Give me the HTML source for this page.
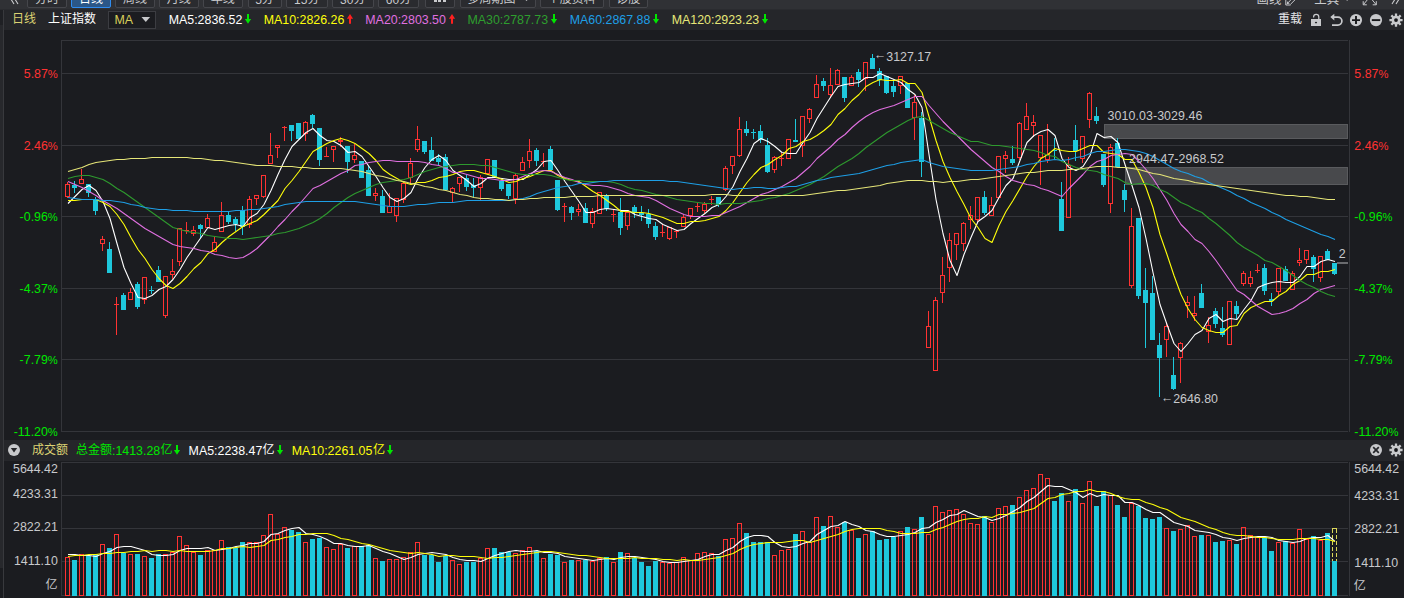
<!DOCTYPE html>
<html lang="zh"><head><meta charset="utf-8"><title>K线图 上证指数</title>
<style>
html,body{margin:0;padding:0;background:#1b1c20}
body{width:1404px;height:598px;overflow:hidden;position:relative;font-family:"Liberation Sans",sans-serif}
span{font-family:"Liberation Sans",sans-serif}
span.cj{position:absolute;line-height:1;white-space:nowrap;font-family:"Liberation Sans","Noto Sans CJK SC",sans-serif}
</style></head>
<body>
<div style="position:absolute;left:0;top:0;width:1404px;height:10px;background:#303135"></div>
<div style="position:absolute;left:0;top:9px;width:1404px;height:1px;background:#2a2b2f"></div>
<div style="position:absolute;left:0;top:10px;width:1404px;height:20px;background:#25262a"></div>
<div style="position:absolute;left:4px;top:440px;width:1400px;height:21px;background:#25262a"></div>
<div style="position:absolute;left:0;top:10px;width:3px;height:15px;background:#1f2024"></div><div style="position:absolute;left:0;top:25px;width:3px;height:543px;background:#27282c"></div>
<div style="position:absolute;left:3px;top:10px;width:1px;height:588px;background:#38393d"></div>
<div style="position:absolute;box-sizing:border-box;left:27px;top:-14px;width:40px;height:22px;border-radius:2px;background:#2a2b2f;border:1px solid #45464b;"></div>
<div style="position:absolute;box-sizing:border-box;left:71px;top:-14px;width:40px;height:22px;border-radius:2px;background:#2b5788;border:1px solid #2f8cf0;"></div>
<div style="position:absolute;box-sizing:border-box;left:115px;top:-14px;width:40px;height:22px;border-radius:2px;background:#2a2b2f;border:1px solid #45464b;"></div>
<div style="position:absolute;box-sizing:border-box;left:159px;top:-14px;width:39.5px;height:22px;border-radius:2px;background:#2a2b2f;border:1px solid #45464b;"></div>
<div style="position:absolute;box-sizing:border-box;left:203px;top:-14px;width:39.5px;height:22px;border-radius:2px;background:#2a2b2f;border:1px solid #45464b;"></div>
<div style="position:absolute;box-sizing:border-box;left:247.5px;top:-14px;width:34px;height:22px;border-radius:2px;background:#2a2b2f;border:1px solid #45464b;"></div>
<div style="position:absolute;box-sizing:border-box;left:286px;top:-14px;width:41.5px;height:22px;border-radius:2px;background:#2a2b2f;border:1px solid #45464b;"></div>
<div style="position:absolute;box-sizing:border-box;left:332px;top:-14px;width:41.5px;height:22px;border-radius:2px;background:#2a2b2f;border:1px solid #45464b;"></div>
<div style="position:absolute;box-sizing:border-box;left:378px;top:-14px;width:41px;height:22px;border-radius:2px;background:#2a2b2f;border:1px solid #45464b;"></div>
<div style="position:absolute;box-sizing:border-box;left:424.5px;top:-14px;width:30px;height:22px;border-radius:2px;background:#2a2b2f;border:1px solid #45464b;"></div>
<div style="position:absolute;box-sizing:border-box;left:459.5px;top:-14px;width:76px;height:22px;border-radius:2px;background:#2a2b2f;border:1px solid #45464b;"></div>
<div style="position:absolute;box-sizing:border-box;left:540px;top:-14px;width:63.5px;height:22px;border-radius:2px;background:#2a2b2f;border:1px solid #45464b;"></div>
<div style="position:absolute;box-sizing:border-box;left:608.5px;top:-14px;width:39.5px;height:22px;border-radius:2px;background:#2a2b2f;border:1px solid #45464b;"></div>
<div style="position:absolute;box-sizing:border-box;left:108px;top:11px;width:48px;height:18px;background:#1b1c20;border:1px solid #3c3d42"></div>
<svg width="1404" height="598" viewBox="0 0 1404 598" style="position:absolute;left:0;top:0">
<g shape-rendering="crispEdges">
<rect x="61" y="40" width="1287" height="1" fill="#34353a"/>
<rect x="61" y="73" width="1287" height="1" fill="#34353a"/>
<rect x="61" y="145" width="1287" height="1" fill="#34353a"/>
<rect x="61" y="216" width="1287" height="1" fill="#34353a"/>
<rect x="61" y="288" width="1287" height="1" fill="#34353a"/>
<rect x="61" y="359" width="1287" height="1" fill="#34353a"/>
<rect x="61" y="431" width="1287" height="1" fill="#34353a"/>
<rect x="61" y="40" width="1" height="392" fill="#34353a"/>
<rect x="1349" y="40" width="1" height="392" fill="#34353a"/>
<rect x="61" y="462" width="1287" height="1" fill="#34353a"/>
<rect x="61" y="495" width="1287" height="1" fill="#34353a"/>
<rect x="61" y="528" width="1287" height="1" fill="#34353a"/>
<rect x="61" y="561" width="1287" height="1" fill="#34353a"/>
<rect x="61" y="595" width="1287" height="1" fill="#34353a"/>
<rect x="61" y="462" width="1" height="134" fill="#34353a"/>
<rect x="1349" y="462" width="1" height="134" fill="#34353a"/>
<rect x="1104.5" y="124.5" width="243" height="14" fill="#48494c" stroke="#5a5b5e" stroke-width="1"/>
<rect x="1125.5" y="167.5" width="222" height="17" fill="#48494c" stroke="#5a5b5e" stroke-width="1"/>
<path d="M65 184h5v13h-5z M66 185v11h3v-11z M67 182h1v2h-1z M67 197h1v1h-1z M79 179h5v5h-5z M80 180v3h3v-3z M81 169h1v10h-1z M100 239h5v5h-5z M101 240v3h3v-3z M102 236h1v3h-1z M102 244h1v7h-1z M114 304h5v1h-5z M116 297h1v7h-1z M116 305h1v30h-1z M128 292h5v8h-5z M129 293v6h3v-6z M130 288h1v4h-1z M142 277h5v23h-5z M143 278v21h3v-21z M144 300h1v4h-1z M163 276h5v40h-5z M164 277v38h3v-38z M165 316h1v2h-1z M170 271h5v4h-5z M171 272v2h3v-2z M172 259h1v12h-1z M172 275h1v4h-1z M177 228h5v34h-5z M178 229v32h3v-32z M179 262h1v4h-1z M184 230h5v1h-5z M186 222h1v8h-1z M186 231h1v3h-1z M191 230h5v4h-5z M192 231v2h3v-2z M193 226h1v4h-1z M193 234h1v2h-1z M205 218h5v10h-5z M206 219v8h3v-8z M207 214h1v4h-1z M212 242h5v10h-5z M213 243v8h3v-8z M214 237h1v5h-1z M219 215h5v17h-5z M220 216v15h3v-15z M221 202h1v13h-1z M247 199h5v26h-5z M248 200v24h3v-24z M249 196h1v3h-1z M249 225h1v3h-1z M254 195h5v4h-5z M255 196v2h3v-2z M256 199h1v6h-1z M261 175h5v22h-5z M262 176v20h3v-20z M263 197h1v1h-1z M268 155h5v9h-5z M269 156v7h3v-7z M270 133h1v22h-1z M275 145h5v3h-5z M276 146v1h3v-1z M277 148h1v10h-1z M282 127h5v1h-5z M284 126h1v1h-1z M284 128h1v13h-1z M303 122h5v12h-5z M304 123v10h3v-10z M305 121h1v1h-1z M305 134h1v7h-1z M324 156h5v1h-5z M326 147h1v9h-1z M331 146h5v4h-5z M332 147v2h3v-2z M333 150h1v12h-1z M338 140h5v2h-5z M340 137h1v3h-1z M340 142h1v5h-1z M352 155h5v5h-5z M353 156v3h3v-3z M354 144h1v11h-1z M354 160h1v3h-1z M373 193h5v3h-5z M374 194v1h3v-1z M375 188h1v5h-1z M375 196h1v5h-1z M387 206h5v7h-5z M388 207v5h3v-5z M389 193h1v13h-1z M394 198h5v18h-5z M395 199v16h3v-16z M396 216h1v6h-1z M401 183h5v17h-5z M402 184v15h3v-15z M403 200h1v3h-1z M408 163h5v15h-5z M409 164v13h3v-13z M410 158h1v5h-1z M410 178h1v6h-1z M415 139h5v11h-5z M416 140v9h3v-9z M417 126h1v13h-1z M417 150h1v2h-1z M450 188h5v5h-5z M451 189v3h3v-3z M452 187h1v1h-1z M452 193h1v9h-1z M457 177h5v7h-5z M458 178v5h3v-5z M459 184h1v8h-1z M478 177h5v11h-5z M479 178v9h3v-9z M480 175h1v2h-1z M480 188h1v12h-1z M485 159h5v15h-5z M486 160v13h3v-13z M513 175h5v24h-5z M514 176v22h3v-22z M515 173h1v2h-1z M515 199h1v5h-1z M520 162h5v9h-5z M521 163v7h3v-7z M522 157h1v5h-1z M527 151h5v10h-5z M528 152v8h3v-8z M529 139h1v12h-1z M529 161h1v7h-1z M541 161h5v1h-5z M543 153h1v8h-1z M543 162h1v5h-1z M562 206h5v1h-5z M564 203h1v3h-1z M564 207h1v15h-1z M576 209h5v3h-5z M577 210v1h3v-1z M578 204h1v5h-1z M578 212h1v4h-1z M590 211h5v13h-5z M591 212v11h3v-11z M592 208h1v3h-1z M592 224h1v4h-1z M597 192h5v22h-5z M598 193v20h3v-20z M611 214h5v1h-5z M613 209h1v5h-1z M613 215h1v7h-1z M625 212h5v14h-5z M626 213v12h3v-12z M627 226h1v4h-1z M660 232h5v1h-5z M662 224h1v8h-1z M662 233h1v4h-1z M667 227h5v12h-5z M668 228v10h3v-10z M669 239h1v1h-1z M674 231h5v1h-5z M676 230h1v1h-1z M676 232h1v6h-1z M681 217h5v10h-5z M682 218v8h3v-8z M683 215h1v2h-1z M688 208h5v8h-5z M689 209v6h3v-6z M690 216h1v3h-1z M695 206h5v1h-5z M697 203h1v3h-1z M697 207h1v5h-1z M702 204h5v7h-5z M703 205v5h3v-5z M704 202h1v2h-1z M704 211h1v3h-1z M709 199h5v1h-5z M711 196h1v3h-1z M711 200h1v5h-1z M723 168h5v22h-5z M724 169v20h3v-20z M725 166h1v2h-1z M725 190h1v1h-1z M730 156h5v10h-5z M731 157v8h3v-8z M732 166h1v8h-1z M737 129h5v27h-5z M738 130v25h3v-25z M739 117h1v12h-1z M739 156h1v1h-1z M772 157h5v13h-5z M773 158v11h3v-11z M774 156h1v1h-1z M774 170h1v3h-1z M779 158h5v1h-5z M781 153h1v5h-1z M781 159h1v7h-1z M786 139h5v20h-5z M787 140v18h3v-18z M800 116h5v30h-5z M801 117v28h3v-28z M802 146h1v11h-1z M807 109h5v10h-5z M808 110v8h3v-8z M809 108h1v1h-1z M809 119h1v4h-1z M814 84h5v14h-5z M815 85v12h3v-12z M816 75h1v9h-1z M828 85h5v10h-5z M829 86v8h3v-8z M830 68h1v17h-1z M830 95h1v3h-1z M835 70h5v15h-5z M836 71v13h3v-13z M837 69h1v1h-1z M849 77h5v9h-5z M850 78v7h3v-7z M851 75h1v2h-1z M863 62h5v17h-5z M864 63v15h3v-15z M865 79h1v12h-1z M898 76h5v10h-5z M899 77v8h3v-8z M900 86h1v8h-1z M912 102h5v16h-5z M913 103v14h3v-14z M914 95h1v7h-1z M914 118h1v22h-1z M926 326h5v22h-5z M927 327v20h3v-20z M928 311h1v15h-1z M933 300h5v71h-5z M934 301v69h3v-69z M935 297h1v3h-1z M940 275h5v18h-5z M941 276v16h3v-16z M942 257h1v18h-1z M942 293h1v10h-1z M947 240h5v28h-5z M948 241v26h3v-26z M949 233h1v7h-1z M949 268h1v14h-1z M954 233h5v12h-5z M955 234v10h3v-10z M956 245h1v15h-1z M961 223h5v21h-5z M962 224v19h3v-19z M963 222h1v1h-1z M963 244h1v7h-1z M968 215h5v5h-5z M969 216v3h3v-3z M970 206h1v9h-1z M970 220h1v9h-1z M975 197h5v23h-5z M976 198v21h3v-21z M977 220h1v2h-1z M989 205h5v11h-5z M990 206v9h3v-9z M991 197h1v8h-1z M996 156h5v42h-5z M997 157v40h3v-40z M1003 155h5v4h-5z M1004 156v2h3v-2z M1005 151h1v4h-1z M1005 159h1v14h-1z M1017 123h5v35h-5z M1018 124v33h3v-33z M1019 122h1v1h-1z M1019 158h1v2h-1z M1024 116h5v14h-5z M1025 117v12h3v-12z M1026 103h1v13h-1z M1031 122h5v4h-5z M1032 123v2h3v-2z M1033 115h1v7h-1z M1033 126h1v11h-1z M1038 135h5v23h-5z M1039 136v21h3v-21z M1040 158h1v27h-1z M1045 154h5v6h-5z M1046 155v4h3v-4z M1047 124h1v30h-1z M1047 160h1v3h-1z M1066 165h5v53h-5z M1067 166v51h3v-51z M1068 157h1v8h-1z M1080 136h5v23h-5z M1081 137v21h3v-21z M1082 159h1v4h-1z M1087 93h5v27h-5z M1088 94v25h3v-25z M1089 92h1v1h-1z M1089 120h1v8h-1z M1108 147h5v57h-5z M1109 148v55h3v-55z M1110 144h1v3h-1z M1110 204h1v9h-1z M1129 226h5v60h-5z M1130 227v58h3v-58z M1131 208h1v18h-1z M1131 286h1v2h-1z M1164 326h5v14h-5z M1165 327v12h3v-12z M1166 323h1v3h-1z M1166 340h1v17h-1z M1178 343h5v15h-5z M1179 344v13h3v-13z M1180 342h1v1h-1z M1180 358h1v25h-1z M1185 302h5v4h-5z M1186 303v2h3v-2z M1187 296h1v6h-1z M1187 306h1v12h-1z M1192 313h5v3h-5z M1193 314v1h3v-1z M1194 296h1v17h-1z M1194 316h1v5h-1z M1206 325h5v7h-5z M1207 326v5h3v-5z M1208 317h1v8h-1z M1208 332h1v11h-1z M1227 301h5v44h-5z M1228 302v42h3v-42z M1241 273h5v11h-5z M1242 274v9h3v-9z M1243 271h1v2h-1z M1243 284h1v2h-1z M1248 277h5v7h-5z M1249 278v5h3v-5z M1250 271h1v6h-1z M1250 284h1v3h-1z M1255 270h5v1h-5z M1257 264h1v6h-1z M1257 271h1v2h-1z M1276 268h5v24h-5z M1277 269v22h3v-22z M1278 292h1v3h-1z M1290 273h5v17h-5z M1291 274v15h3v-15z M1292 271h1v2h-1z M1297 260h5v3h-5z M1298 261v1h3v-1z M1299 248h1v12h-1z M1299 263h1v3h-1z M1304 250h5v10h-5z M1305 251v8h3v-8z M1306 260h1v4h-1z M1318 256h5v22h-5z M1319 257v20h3v-20z M1320 278h1v4h-1z" fill="#ff3232" fill-rule="evenodd"/>
<path d="M72 185h5v3h-5z M74 181h1v4h-1z M74 188h1v5h-1z M86 184h5v9h-5z M88 193h1v4h-1z M93 200h5v11h-5z M95 197h1v3h-1z M95 211h1v4h-1z M107 249h5v24h-5z M109 242h1v7h-1z M121 295h5v15h-5z M123 293h1v2h-1z M135 284h5v23h-5z M137 282h1v2h-1z M137 307h1v2h-1z M149 290h5v1h-5z M151 286h1v4h-1z M151 291h1v3h-1z M156 270h5v12h-5z M158 266h1v4h-1z M198 225h5v4h-5z M200 224h1v1h-1z M200 229h1v9h-1z M226 215h5v7h-5z M228 212h1v3h-1z M228 222h1v2h-1z M233 219h5v5h-5z M235 217h1v2h-1z M235 224h1v7h-1z M240 210h5v17h-5z M242 206h1v4h-1z M242 227h1v8h-1z M289 125h5v6h-5z M291 131h1v10h-1z M296 123h5v16h-5z M310 115h5v9h-5z M312 114h1v1h-1z M312 124h1v4h-1z M317 128h5v32h-5z M319 160h1v6h-1z M345 146h5v16h-5z M347 162h1v11h-1z M359 161h5v17h-5z M366 170h5v26h-5z M368 166h1v4h-1z M380 196h5v17h-5z M382 190h1v6h-1z M422 141h5v11h-5z M424 152h1v2h-1z M429 150h5v11h-5z M431 137h1v13h-1z M436 158h5v4h-5z M438 154h1v4h-1z M438 162h1v3h-1z M443 157h5v33h-5z M445 154h1v3h-1z M464 178h5v9h-5z M466 175h1v3h-1z M466 187h1v4h-1z M471 185h5v3h-5z M473 178h1v7h-1z M473 188h1v9h-1z M492 160h5v17h-5z M499 181h5v8h-5z M501 189h1v2h-1z M506 184h5v12h-5z M508 196h1v3h-1z M534 150h5v11h-5z M536 148h1v2h-1z M536 161h1v5h-1z M548 149h5v21h-5z M550 146h1v3h-1z M555 180h5v30h-5z M557 210h1v1h-1z M569 207h5v6h-5z M571 206h1v1h-1z M571 213h1v7h-1z M583 208h5v15h-5z M585 203h1v5h-1z M604 196h5v13h-5z M606 194h1v2h-1z M606 209h1v2h-1z M618 212h5v16h-5z M620 198h1v14h-1z M620 228h1v7h-1z M632 207h5v6h-5z M634 205h1v2h-1z M634 213h1v5h-1z M639 213h5v2h-5z M641 206h1v7h-1z M641 215h1v6h-1z M646 214h5v10h-5z M648 209h1v5h-1z M648 224h1v4h-1z M653 226h5v11h-5z M655 222h1v4h-1z M655 237h1v3h-1z M716 197h5v8h-5z M718 205h1v2h-1z M744 129h5v4h-5z M746 121h1v8h-1z M746 133h1v3h-1z M751 132h5v1h-5z M753 129h1v3h-1z M753 133h1v6h-1z M758 131h5v9h-5z M760 125h1v6h-1z M760 140h1v3h-1z M765 145h5v27h-5z M767 138h1v7h-1z M767 172h1v1h-1z M793 140h5v2h-5z M795 119h1v21h-1z M821 81h5v5h-5z M823 78h1v3h-1z M823 86h1v5h-1z M842 77h5v21h-5z M844 98h1v4h-1z M856 72h5v8h-5z M858 69h1v3h-1z M858 80h1v7h-1z M870 58h5v11h-5z M872 54h1v4h-1z M877 71h5v9h-5z M879 68h1v3h-1z M879 80h1v6h-1z M884 76h5v17h-5z M886 93h1v1h-1z M891 86h5v6h-5z M893 81h1v5h-1z M893 92h1v5h-1z M905 83h5v25h-5z M919 118h5v44h-5z M921 112h1v6h-1z M921 162h1v15h-1z M982 197h5v16h-5z M984 191h1v6h-1z M984 213h1v2h-1z M1010 159h5v4h-5z M1012 146h1v13h-1z M1012 163h1v2h-1z M1052 150h5v1h-5z M1054 138h1v12h-1z M1054 151h1v8h-1z M1059 199h5v32h-5z M1061 182h1v17h-1z M1073 140h5v11h-5z M1075 125h1v15h-1z M1075 151h1v10h-1z M1094 116h5v5h-5z M1096 107h1v9h-1z M1096 121h1v3h-1z M1101 154h5v31h-5z M1103 185h1v2h-1z M1115 143h5v24h-5z M1117 138h1v5h-1z M1122 190h5v10h-5z M1124 184h1v6h-1z M1124 200h1v12h-1z M1136 218h5v78h-5z M1138 296h1v3h-1z M1143 290h5v13h-5z M1145 268h1v22h-1z M1145 303h1v45h-1z M1150 293h5v47h-5z M1152 276h1v17h-1z M1157 345h5v13h-5z M1159 333h1v12h-1z M1159 358h1v39h-1z M1171 375h5v14h-5z M1173 357h1v18h-1z M1173 389h1v1h-1z M1199 293h5v15h-5z M1201 284h1v9h-1z M1213 311h5v13h-5z M1215 308h1v3h-1z M1215 324h1v4h-1z M1220 328h5v7h-5z M1222 307h1v21h-1z M1222 335h1v2h-1z M1234 306h5v8h-5z M1236 301h1v5h-1z M1236 314h1v5h-1z M1262 268h5v23h-5z M1264 264h1v4h-1z M1264 291h1v4h-1z M1269 299h5v2h-5z M1271 293h1v6h-1z M1271 301h1v5h-1z M1283 269h5v12h-5z M1285 266h1v3h-1z M1311 257h5v12h-5z M1313 255h1v2h-1z M1313 269h1v13h-1z M1325 251h5v9h-5z M1327 249h1v2h-1z M1332 263h5v11h-5z M1334 274h1v1h-1z" fill="#1ec8dc"/>
<rect x="1337" y="262" width="11" height="2" fill="#6a6b6e"/>
<path d="M65 557h5v39h-5z M66 558v37h3v-37z M79 554h5v42h-5z M80 555v40h3v-40z M100 544h5v52h-5z M101 545v50h3v-50z M114 534h5v62h-5z M115 535v60h3v-60z M128 554h5v42h-5z M129 555v40h3v-40z M142 556h5v40h-5z M143 557v38h3v-38z M163 554h5v42h-5z M164 555v40h3v-40z M170 552h5v44h-5z M171 553v42h3v-42z M177 536h5v60h-5z M178 537v58h3v-58z M184 545h5v51h-5z M185 546v49h3v-49z M191 552h5v44h-5z M192 553v42h3v-42z M205 550h5v46h-5z M206 551v44h3v-44z M212 550h5v46h-5z M213 551v44h3v-44z M219 540h5v56h-5z M220 541v54h3v-54z M247 542h5v54h-5z M248 543v52h3v-52z M254 542h5v54h-5z M255 543v52h3v-52z M261 535h5v61h-5z M262 536v59h3v-59z M268 514h5v82h-5z M269 515v80h3v-80z M275 534h5v62h-5z M276 535v60h3v-60z M282 527h5v69h-5z M283 528v67h3v-67z M303 542h5v54h-5z M304 543v52h3v-52z M324 547h5v49h-5z M325 548v47h3v-47z M331 549h5v47h-5z M332 550v45h3v-45z M338 544h5v52h-5z M339 545v50h3v-50z M352 546h5v50h-5z M353 547v48h3v-48z M373 558h5v38h-5z M374 559v36h3v-36z M387 559h5v37h-5z M388 560v35h3v-35z M394 559h5v37h-5z M395 560v35h3v-35z M401 557h5v39h-5z M402 558v37h3v-37z M408 552h5v44h-5z M409 553v42h3v-42z M415 542h5v54h-5z M416 543v52h3v-52z M450 560h5v36h-5z M451 561v34h3v-34z M457 564h5v32h-5z M458 565v30h3v-30z M478 558h5v38h-5z M479 559v36h3v-36z M485 548h5v48h-5z M486 549v46h3v-46z M513 553h5v43h-5z M514 554v41h3v-41z M520 550h5v46h-5z M521 551v44h3v-44z M527 547h5v49h-5z M528 548v47h3v-47z M541 558h5v38h-5z M542 559v36h3v-36z M562 562h5v34h-5z M563 563v32h3v-32z M576 560h5v36h-5z M577 561v34h3v-34z M590 561h5v35h-5z M591 562v33h3v-33z M597 558h5v38h-5z M598 559v36h3v-36z M611 562h5v34h-5z M612 563v32h3v-32z M625 553h5v43h-5z M626 554v41h3v-41z M660 562h5v34h-5z M661 563v32h3v-32z M667 563h5v33h-5z M668 564v31h3v-31z M674 562h5v34h-5z M675 563v32h3v-32z M681 557h5v39h-5z M682 558v37h3v-37z M688 560h5v36h-5z M689 561v34h3v-34z M695 553h5v43h-5z M696 554v41h3v-41z M702 552h5v44h-5z M703 553v42h3v-42z M709 553h5v43h-5z M710 554v41h3v-41z M723 539h5v57h-5z M724 540v55h3v-55z M730 538h5v58h-5z M731 539v56h3v-56z M737 523h5v73h-5z M738 524v71h3v-71z M772 555h5v41h-5z M773 556v39h3v-39z M779 550h5v46h-5z M780 551v44h3v-44z M786 549h5v47h-5z M787 550v45h3v-45z M800 531h5v65h-5z M801 532v63h3v-63z M807 542h5v54h-5z M808 543v52h3v-52z M814 517h5v79h-5z M815 518v77h3v-77z M828 516h5v80h-5z M829 517v78h3v-78z M835 527h5v69h-5z M836 528v67h3v-67z M849 530h5v66h-5z M850 531v64h3v-64z M863 534h5v62h-5z M864 535v60h3v-60z M898 531h5v65h-5z M899 532v63h3v-63z M912 529h5v67h-5z M913 530v65h3v-65z M926 534h5v62h-5z M927 535v60h3v-60z M933 506h5v90h-5z M934 507v88h3v-88z M940 512h5v84h-5z M941 513v82h3v-82z M947 510h5v86h-5z M948 511v84h3v-84z M954 509h5v87h-5z M955 510v85h3v-85z M961 514h5v82h-5z M962 515v80h3v-80z M968 523h5v73h-5z M969 524v71h3v-71z M975 524h5v72h-5z M976 525v70h3v-70z M989 522h5v74h-5z M990 523v72h3v-72z M996 508h5v88h-5z M997 509v86h3v-86z M1003 506h5v90h-5z M1004 507v88h3v-88z M1017 497h5v99h-5z M1018 498v97h3v-97z M1024 490h5v106h-5z M1025 491v104h3v-104z M1031 488h5v108h-5z M1032 489v106h3v-106z M1038 474h5v122h-5z M1039 475v120h3v-120z M1045 478h5v118h-5z M1046 479v116h3v-116z M1066 501h5v95h-5z M1067 502v93h3v-93z M1080 503h5v93h-5z M1081 504v91h3v-91z M1087 481h5v115h-5z M1088 482v113h3v-113z M1108 495h5v101h-5z M1109 496v99h3v-99z M1129 503h5v93h-5z M1130 504v91h3v-91z M1164 528h5v68h-5z M1165 529v66h3v-66z M1178 529h5v67h-5z M1179 530v65h3v-65z M1185 525h5v71h-5z M1186 526v69h3v-69z M1192 536h5v60h-5z M1193 537v58h3v-58z M1206 535h5v61h-5z M1207 536v59h3v-59z M1227 540h5v56h-5z M1228 541v54h3v-54z M1241 527h5v69h-5z M1242 528v67h3v-67z M1248 535h5v61h-5z M1249 536v59h3v-59z M1255 537h5v59h-5z M1256 538v57h3v-57z M1276 542h5v54h-5z M1277 543v52h3v-52z M1290 543h5v53h-5z M1291 544v51h3v-51z M1297 529h5v67h-5z M1298 530v65h3v-65z M1304 539h5v57h-5z M1305 540v55h3v-55z M1318 540h5v56h-5z M1319 541v54h3v-54z" fill="#ff3232" fill-rule="evenodd"/>
<path d="M72 560h5v36h-5z M86 556h5v40h-5z M93 554h5v42h-5z M107 548h5v48h-5z M121 553h5v43h-5z M135 554h5v42h-5z M149 558h5v38h-5z M156 554h5v42h-5z M198 555h5v41h-5z M226 547h5v49h-5z M233 548h5v48h-5z M240 542h5v54h-5z M289 530h5v66h-5z M296 532h5v64h-5z M310 539h5v57h-5z M317 538h5v58h-5z M345 548h5v48h-5z M359 546h5v50h-5z M366 545h5v51h-5z M380 561h5v35h-5z M422 555h5v41h-5z M429 555h5v41h-5z M436 562h5v34h-5z M443 556h5v40h-5z M464 562h5v34h-5z M471 562h5v34h-5z M492 548h5v48h-5z M499 552h5v44h-5z M506 552h5v44h-5z M534 551h5v45h-5z M548 554h5v42h-5z M555 555h5v41h-5z M569 560h5v36h-5z M583 560h5v36h-5z M604 557h5v39h-5z M618 552h5v44h-5z M632 558h5v38h-5z M639 562h5v34h-5z M646 566h5v30h-5z M653 561h5v35h-5z M716 556h5v40h-5z M744 533h5v63h-5z M751 542h5v54h-5z M758 542h5v54h-5z M765 542h5v54h-5z M793 534h5v62h-5z M821 526h5v70h-5z M842 522h5v74h-5z M856 538h5v58h-5z M870 531h5v65h-5z M877 540h5v56h-5z M884 539h5v57h-5z M891 537h5v59h-5z M905 527h5v69h-5z M919 517h5v79h-5z M982 516h5v80h-5z M1010 505h5v91h-5z M1052 501h5v95h-5z M1059 493h5v103h-5z M1073 489h5v107h-5z M1094 506h5v90h-5z M1101 491h5v105h-5z M1115 505h5v91h-5z M1122 517h5v79h-5z M1136 506h5v90h-5z M1143 518h5v78h-5z M1150 519h5v77h-5z M1157 517h5v79h-5z M1171 531h5v65h-5z M1199 535h5v61h-5z M1213 542h5v54h-5z M1220 541h5v55h-5z M1234 544h5v52h-5z M1262 537h5v59h-5z M1269 551h5v45h-5z M1283 541h5v55h-5z M1311 536h5v60h-5z M1325 533h5v63h-5z M1332 561h5v35h-5z" fill="#1ec8dc"/>
<path d="M1332.5 528.5V561M1336.5 528.5V561" fill="none" stroke="#dcd75a" stroke-width="1" stroke-dasharray="4 2"/><rect x="1332" y="528" width="5" height="1" fill="#dcd75a"/>
</g>
<g>
<polyline points="68.0,203.5 75.0,196.5 82.0,189.5 89.0,185.5 96.0,190.5 103.0,201.5 110.0,218.5 117.0,243.5 124.0,267.5 131.0,283.5 138.0,297.5 145.0,298.5 152.0,295.5 159.0,289.5 166.0,286.5 173.0,279.5 180.0,269.5 187.0,257.5 194.0,247.5 201.0,237.5 208.0,227.5 215.0,229.5 222.0,227.5 229.0,225.5 236.0,224.5 243.0,226.5 250.0,217.5 257.0,213.5 264.0,204.5 271.0,190.5 278.0,174.5 285.0,159.5 292.0,146.5 299.0,139.5 306.0,132.5 313.0,128.5 320.0,135.5 327.0,140.5 334.0,141.5 341.0,145.5 348.0,152.5 355.0,151.5 362.0,156.5 369.0,166.5 376.0,176.5 383.0,187.5 390.0,197.5 397.0,201.5 404.0,198.5 411.0,192.5 418.0,178.5 425.0,167.5 432.0,159.5 439.0,155.5 446.0,160.5 453.0,170.5 460.0,175.5 467.0,180.5 474.0,186.5 481.0,183.5 488.0,177.5 495.0,177.5 502.0,178.5 509.0,179.5 516.0,179.5 523.0,179.5 530.0,174.5 537.0,169.5 544.0,161.5 551.0,160.5 558.0,170.5 565.0,181.5 572.0,191.5 579.0,201.5 586.0,212.5 593.0,212.5 600.0,209.5 607.0,208.5 614.0,209.5 621.0,210.5 628.0,210.5 635.0,214.5 642.0,216.5 649.0,218.5 656.0,219.5 663.0,224.5 670.0,227.5 677.0,230.5 684.0,229.5 691.0,223.5 698.0,218.5 705.0,213.5 712.0,207.5 719.0,204.5 726.0,196.5 733.0,186.5 740.0,171.5 747.0,158.5 754.0,143.5 761.0,138.5 768.0,141.5 775.0,146.5 782.0,152.5 789.0,153.5 796.0,153.5 803.0,142.5 810.0,132.5 817.0,118.5 824.0,107.5 831.0,96.5 838.0,86.5 845.0,84.5 852.0,83.5 859.0,82.5 866.0,77.5 873.0,77.5 880.0,73.5 887.0,76.5 894.0,79.5 901.0,82.5 908.0,89.5 915.0,94.5 922.0,107.5 929.0,154.5 936.0,199.5 943.0,233.5 950.0,260.5 957.0,275.5 964.0,254.5 971.0,237.5 978.0,221.5 985.0,216.5 992.0,210.5 999.0,197.5 1006.0,185.5 1013.0,178.5 1020.0,160.5 1027.0,142.5 1034.0,135.5 1041.0,131.5 1048.0,129.5 1055.0,135.5 1062.0,158.5 1069.0,167.5 1076.0,170.5 1083.0,166.5 1090.0,155.5 1097.0,133.5 1104.0,137.5 1111.0,136.5 1118.0,142.5 1125.0,164.5 1132.0,185.5 1139.0,207.5 1146.0,238.5 1153.0,272.5 1160.0,304.5 1167.0,324.5 1174.0,343.5 1181.0,351.5 1188.0,343.5 1195.0,334.5 1202.0,330.5 1209.0,318.5 1216.0,314.5 1223.0,321.5 1230.0,318.5 1237.0,319.5 1244.0,309.5 1251.0,300.5 1258.0,287.5 1265.0,284.5 1272.0,282.5 1279.0,281.5 1286.0,282.5 1293.0,282.5 1300.0,276.5 1307.0,266.5 1314.0,266.5 1321.0,261.5 1328.0,259.5 1335.0,261.5" fill="none" stroke="#ffffff" stroke-width="1.1" stroke-linejoin="round" stroke-linecap="butt"/>
<polyline points="68.0,200.5 75.0,200.5 82.0,199.5 89.0,199.5 96.0,199.5 103.0,202.5 110.0,206.5 117.0,214.5 124.0,224.5 131.0,237.5 138.0,249.5 145.0,258.5 152.0,269.5 159.0,278.5 166.0,285.5 173.0,288.5 180.0,283.5 187.0,276.5 194.0,268.5 201.0,262.5 208.0,253.5 215.0,249.5 222.0,242.5 229.0,236.5 236.0,231.5 243.0,226.5 250.0,223.5 257.0,220.5 264.0,214.5 271.0,207.5 278.0,200.5 285.0,188.5 292.0,180.5 299.0,171.5 306.0,161.5 313.0,151.5 320.0,147.5 327.0,143.5 334.0,140.5 341.0,138.5 348.0,140.5 355.0,143.5 362.0,148.5 369.0,153.5 376.0,160.5 383.0,169.5 390.0,174.5 397.0,178.5 404.0,182.5 411.0,184.5 418.0,182.5 425.0,182.5 432.0,180.5 439.0,177.5 446.0,176.5 453.0,174.5 460.0,171.5 467.0,170.5 474.0,170.5 481.0,172.5 488.0,174.5 495.0,176.5 502.0,179.5 509.0,182.5 516.0,181.5 523.0,178.5 530.0,176.5 537.0,173.5 544.0,170.5 551.0,170.5 558.0,175.5 565.0,178.5 572.0,180.5 579.0,181.5 586.0,186.5 593.0,191.5 600.0,195.5 607.0,200.5 614.0,205.5 621.0,211.5 628.0,211.5 635.0,212.5 642.0,212.5 649.0,213.5 656.0,215.5 663.0,217.5 670.0,220.5 677.0,223.5 684.0,223.5 691.0,221.5 698.0,221.5 705.0,220.5 712.0,218.5 719.0,216.5 726.0,210.5 733.0,202.5 740.0,192.5 747.0,182.5 754.0,174.5 761.0,167.5 768.0,164.5 775.0,159.5 782.0,155.5 789.0,148.5 796.0,146.5 803.0,141.5 810.0,139.5 817.0,135.5 824.0,130.5 831.0,124.5 838.0,114.5 845.0,108.5 852.0,100.5 859.0,94.5 866.0,86.5 873.0,82.5 880.0,79.5 887.0,80.5 894.0,80.5 901.0,79.5 908.0,83.5 915.0,83.5 922.0,92.5 929.0,116.5 936.0,140.5 943.0,161.5 950.0,177.5 957.0,191.5 964.0,204.5 971.0,218.5 978.0,227.5 985.0,238.5 992.0,242.5 999.0,225.5 1006.0,211.5 1013.0,200.5 1020.0,188.5 1027.0,176.5 1034.0,166.5 1041.0,158.5 1048.0,154.5 1055.0,148.5 1062.0,150.5 1069.0,151.5 1076.0,151.5 1083.0,148.5 1090.0,145.5 1097.0,145.5 1104.0,152.5 1111.0,153.5 1118.0,154.5 1125.0,159.5 1132.0,159.5 1139.0,172.5 1146.0,187.5 1153.0,207.5 1160.0,234.5 1167.0,254.5 1174.0,275.5 1181.0,294.5 1188.0,308.5 1195.0,319.5 1202.0,327.5 1209.0,330.5 1216.0,332.5 1223.0,332.5 1230.0,326.5 1237.0,325.5 1244.0,313.5 1251.0,307.5 1258.0,304.5 1265.0,301.5 1272.0,301.5 1279.0,295.5 1286.0,291.5 1293.0,284.5 1300.0,280.5 1307.0,274.5 1314.0,274.5 1321.0,271.5 1328.0,271.5 1335.0,269.5" fill="none" stroke="#ffff0a" stroke-width="1.1" stroke-linejoin="round" stroke-linecap="butt"/>
<polyline points="68.0,181.5 75.0,184.5 82.0,187.5 89.0,191.5 96.0,195.5 103.0,200.5 110.0,204.5 117.0,208.5 124.0,213.5 131.0,218.5 138.0,223.5 145.0,228.5 152.0,232.5 159.0,236.5 166.0,240.5 173.0,244.5 180.0,246.5 187.0,247.5 194.0,248.5 201.0,250.5 208.0,251.5 215.0,254.5 222.0,255.5 229.0,257.5 236.0,258.5 243.0,257.5 250.0,253.5 257.0,248.5 264.0,241.5 271.0,234.5 278.0,226.5 285.0,219.5 292.0,211.5 299.0,204.5 306.0,196.5 313.0,188.5 320.0,185.5 327.0,181.5 334.0,177.5 341.0,173.5 348.0,170.5 355.0,165.5 362.0,164.5 369.0,162.5 376.0,161.5 383.0,160.5 390.0,160.5 397.0,161.5 404.0,161.5 411.0,161.5 418.0,161.5 425.0,162.5 432.0,164.5 439.0,165.5 446.0,168.5 453.0,172.5 460.0,172.5 467.0,174.5 474.0,176.5 481.0,178.5 488.0,178.5 495.0,179.5 502.0,180.5 509.0,180.5 516.0,179.5 523.0,176.5 530.0,173.5 537.0,171.5 544.0,170.5 551.0,171.5 558.0,174.5 565.0,177.5 572.0,179.5 579.0,182.5 586.0,184.5 593.0,185.5 600.0,185.5 607.0,186.5 614.0,188.5 621.0,190.5 628.0,193.5 635.0,195.5 642.0,196.5 649.0,197.5 656.0,200.5 663.0,204.5 670.0,208.5 677.0,211.5 684.0,214.5 691.0,216.5 698.0,216.5 705.0,216.5 712.0,215.5 719.0,215.5 726.0,212.5 733.0,209.5 740.0,206.5 747.0,202.5 754.0,198.5 761.0,194.5 768.0,192.5 775.0,189.5 782.0,186.5 789.0,182.5 796.0,178.5 803.0,172.5 810.0,166.5 817.0,158.5 824.0,152.5 831.0,146.5 838.0,139.5 845.0,134.5 852.0,127.5 859.0,121.5 866.0,116.5 873.0,112.5 880.0,109.5 887.0,107.5 894.0,105.5 901.0,102.5 908.0,99.5 915.0,96.5 922.0,96.5 929.0,105.5 936.0,113.5 943.0,121.5 950.0,128.5 957.0,135.5 964.0,142.5 971.0,149.5 978.0,155.5 985.0,161.5 992.0,167.5 999.0,171.5 1006.0,176.5 1013.0,180.5 1020.0,182.5 1027.0,184.5 1034.0,185.5 1041.0,188.5 1048.0,190.5 1055.0,193.5 1062.0,196.5 1069.0,188.5 1076.0,181.5 1083.0,174.5 1090.0,166.5 1097.0,161.5 1104.0,159.5 1111.0,155.5 1118.0,154.5 1125.0,153.5 1132.0,154.5 1139.0,161.5 1146.0,169.5 1153.0,178.5 1160.0,189.5 1167.0,200.5 1174.0,213.5 1181.0,224.5 1188.0,231.5 1195.0,239.5 1202.0,243.5 1209.0,251.5 1216.0,260.5 1223.0,270.5 1230.0,280.5 1237.0,290.5 1244.0,294.5 1251.0,300.5 1258.0,306.5 1265.0,310.5 1272.0,314.5 1279.0,313.5 1286.0,311.5 1293.0,308.5 1300.0,303.5 1307.0,299.5 1314.0,293.5 1321.0,289.5 1328.0,287.5 1335.0,285.5" fill="none" stroke="#e070e0" stroke-width="1.1" stroke-linejoin="round" stroke-linecap="butt"/>
<polyline points="68.0,178.5 75.0,176.5 82.0,175.5 89.0,175.5 96.0,177.5 103.0,179.5 110.0,183.5 117.0,188.5 124.0,192.5 131.0,197.5 138.0,202.5 145.0,207.5 152.0,212.5 159.0,217.5 166.0,222.5 173.0,227.5 180.0,229.5 187.0,231.5 194.0,232.5 201.0,233.5 208.0,235.5 215.0,236.5 222.0,237.5 229.0,238.5 236.0,238.5 243.0,239.5 250.0,238.5 257.0,237.5 264.0,236.5 271.0,235.5 278.0,233.5 285.0,232.5 292.0,230.5 299.0,228.5 306.0,225.5 313.0,222.5 320.0,218.5 327.0,213.5 334.0,207.5 341.0,202.5 348.0,197.5 355.0,193.5 362.0,190.5 369.0,187.5 376.0,184.5 383.0,182.5 390.0,181.5 397.0,180.5 404.0,179.5 411.0,177.5 418.0,174.5 425.0,171.5 432.0,169.5 439.0,167.5 446.0,166.5 453.0,165.5 460.0,164.5 467.0,164.5 474.0,164.5 481.0,165.5 488.0,165.5 495.0,167.5 502.0,169.5 509.0,171.5 516.0,173.5 523.0,174.5 530.0,174.5 537.0,174.5 544.0,174.5 551.0,175.5 558.0,177.5 565.0,179.5 572.0,180.5 579.0,180.5 586.0,181.5 593.0,181.5 600.0,181.5 607.0,181.5 614.0,182.5 621.0,184.5 628.0,187.5 635.0,189.5 642.0,190.5 649.0,192.5 656.0,194.5 663.0,195.5 670.0,197.5 677.0,199.5 684.0,200.5 691.0,201.5 698.0,202.5 705.0,203.5 712.0,203.5 719.0,204.5 726.0,203.5 733.0,203.5 740.0,203.5 747.0,202.5 754.0,201.5 761.0,200.5 768.0,198.5 775.0,197.5 782.0,195.5 789.0,193.5 796.0,190.5 803.0,187.5 810.0,184.5 817.0,180.5 824.0,176.5 831.0,171.5 838.0,166.5 845.0,162.5 852.0,158.5 859.0,153.5 866.0,147.5 873.0,142.5 880.0,137.5 887.0,132.5 894.0,128.5 901.0,124.5 908.0,120.5 915.0,117.5 922.0,116.5 929.0,120.5 936.0,124.5 943.0,128.5 950.0,132.5 957.0,135.5 964.0,138.5 971.0,141.5 978.0,141.5 985.0,143.5 992.0,145.5 999.0,145.5 1006.0,146.5 1013.0,147.5 1020.0,148.5 1027.0,149.5 1034.0,150.5 1041.0,152.5 1048.0,155.5 1055.0,156.5 1062.0,161.5 1069.0,164.5 1076.0,167.5 1083.0,169.5 1090.0,170.5 1097.0,171.5 1104.0,174.5 1111.0,176.5 1118.0,178.5 1125.0,182.5 1132.0,184.5 1139.0,183.5 1146.0,183.5 1153.0,185.5 1160.0,189.5 1167.0,192.5 1174.0,197.5 1181.0,202.5 1188.0,205.5 1195.0,209.5 1202.0,212.5 1209.0,218.5 1216.0,223.5 1223.0,229.5 1230.0,235.5 1237.0,242.5 1244.0,247.5 1251.0,251.5 1258.0,255.5 1265.0,260.5 1272.0,262.5 1279.0,266.5 1286.0,270.5 1293.0,275.5 1300.0,280.5 1307.0,284.5 1314.0,287.5 1321.0,291.5 1328.0,294.5 1335.0,296.5" fill="none" stroke="#2e9a2e" stroke-width="1.1" stroke-linejoin="round" stroke-linecap="butt"/>
<polyline points="68.0,197.5 75.0,198.5 82.0,199.5 89.0,199.5 96.0,199.5 103.0,200.5 110.0,200.5 117.0,201.5 124.0,202.5 131.0,204.5 138.0,205.5 145.0,207.5 152.0,208.5 159.0,209.5 166.0,209.5 173.0,210.5 180.0,210.5 187.0,210.5 194.0,211.5 201.0,211.5 208.0,211.5 215.0,211.5 222.0,211.5 229.0,211.5 236.0,210.5 243.0,210.5 250.0,209.5 257.0,209.5 264.0,208.5 271.0,207.5 278.0,206.5 285.0,204.5 292.0,203.5 299.0,202.5 306.0,201.5 313.0,201.5 320.0,201.5 327.0,201.5 334.0,201.5 341.0,201.5 348.0,201.5 355.0,201.5 362.0,202.5 369.0,203.5 376.0,204.5 383.0,205.5 390.0,206.5 397.0,206.5 404.0,206.5 411.0,205.5 418.0,204.5 425.0,204.5 432.0,203.5 439.0,202.5 446.0,202.5 453.0,202.5 460.0,201.5 467.0,200.5 474.0,200.5 481.0,200.5 488.0,200.5 495.0,200.5 502.0,200.5 509.0,200.5 516.0,199.5 523.0,198.5 530.0,196.5 537.0,193.5 544.0,191.5 551.0,189.5 558.0,187.5 565.0,186.5 572.0,185.5 579.0,183.5 586.0,183.5 593.0,182.5 600.0,181.5 607.0,181.5 614.0,180.5 621.0,180.5 628.0,180.5 635.0,180.5 642.0,180.5 649.0,180.5 656.0,180.5 663.0,180.5 670.0,181.5 677.0,181.5 684.0,182.5 691.0,183.5 698.0,184.5 705.0,185.5 712.0,186.5 719.0,187.5 726.0,188.5 733.0,189.5 740.0,188.5 747.0,188.5 754.0,187.5 761.0,187.5 768.0,188.5 775.0,188.5 782.0,187.5 789.0,186.5 796.0,186.5 803.0,184.5 810.0,182.5 817.0,180.5 824.0,179.5 831.0,177.5 838.0,176.5 845.0,175.5 852.0,174.5 859.0,173.5 866.0,171.5 873.0,169.5 880.0,167.5 887.0,165.5 894.0,164.5 901.0,162.5 908.0,161.5 915.0,160.5 922.0,159.5 929.0,162.5 936.0,164.5 943.0,166.5 950.0,167.5 957.0,168.5 964.0,169.5 971.0,170.5 978.0,170.5 985.0,170.5 992.0,170.5 999.0,169.5 1006.0,168.5 1013.0,167.5 1020.0,166.5 1027.0,164.5 1034.0,163.5 1041.0,161.5 1048.0,160.5 1055.0,159.5 1062.0,160.5 1069.0,159.5 1076.0,157.5 1083.0,156.5 1090.0,153.5 1097.0,151.5 1104.0,151.5 1111.0,150.5 1118.0,149.5 1125.0,149.5 1132.0,150.5 1139.0,151.5 1146.0,153.5 1153.0,156.5 1160.0,160.5 1167.0,164.5 1174.0,168.5 1181.0,171.5 1188.0,173.5 1195.0,176.5 1202.0,178.5 1209.0,182.5 1216.0,185.5 1223.0,188.5 1230.0,191.5 1237.0,195.5 1244.0,198.5 1251.0,202.5 1258.0,205.5 1265.0,208.5 1272.0,212.5 1279.0,215.5 1286.0,219.5 1293.0,222.5 1300.0,225.5 1307.0,228.5 1314.0,231.5 1321.0,234.5 1328.0,236.5 1335.0,239.5" fill="none" stroke="#1e9fe6" stroke-width="1.1" stroke-linejoin="round" stroke-linecap="butt"/>
<polyline points="68.0,171.5 75.0,169.5 82.0,167.5 89.0,164.5 96.0,162.5 103.0,161.5 110.0,160.5 117.0,159.5 124.0,159.5 131.0,158.5 138.0,158.5 145.0,158.5 152.0,157.5 159.0,157.5 166.0,157.5 173.0,157.5 180.0,157.5 187.0,157.5 194.0,158.5 201.0,158.5 208.0,159.5 215.0,160.5 222.0,160.5 229.0,161.5 236.0,162.5 243.0,163.5 250.0,164.5 257.0,165.5 264.0,165.5 271.0,165.5 278.0,166.5 285.0,166.5 292.0,166.5 299.0,167.5 306.0,167.5 313.0,168.5 320.0,168.5 327.0,168.5 334.0,168.5 341.0,168.5 348.0,169.5 355.0,170.5 362.0,171.5 369.0,173.5 376.0,175.5 383.0,176.5 390.0,178.5 397.0,180.5 404.0,181.5 411.0,183.5 418.0,184.5 425.0,186.5 432.0,187.5 439.0,189.5 446.0,190.5 453.0,192.5 460.0,194.5 467.0,195.5 474.0,197.5 481.0,198.5 488.0,198.5 495.0,199.5 502.0,199.5 509.0,200.5 516.0,199.5 523.0,199.5 530.0,198.5 537.0,198.5 544.0,197.5 551.0,197.5 558.0,197.5 565.0,197.5 572.0,196.5 579.0,196.5 586.0,196.5 593.0,196.5 600.0,195.5 607.0,195.5 614.0,195.5 621.0,195.5 628.0,195.5 635.0,195.5 642.0,195.5 649.0,195.5 656.0,195.5 663.0,195.5 670.0,195.5 677.0,195.5 684.0,195.5 691.0,195.5 698.0,195.5 705.0,195.5 712.0,194.5 719.0,194.5 726.0,194.5 733.0,195.5 740.0,195.5 747.0,195.5 754.0,195.5 761.0,195.5 768.0,195.5 775.0,195.5 782.0,195.5 789.0,195.5 796.0,195.5 803.0,195.5 810.0,194.5 817.0,193.5 824.0,192.5 831.0,191.5 838.0,190.5 845.0,190.5 852.0,189.5 859.0,188.5 866.0,187.5 873.0,186.5 880.0,185.5 887.0,183.5 894.0,182.5 901.0,181.5 908.0,180.5 915.0,180.5 922.0,180.5 929.0,181.5 936.0,181.5 943.0,182.5 950.0,181.5 957.0,181.5 964.0,180.5 971.0,179.5 978.0,179.5 985.0,178.5 992.0,177.5 999.0,176.5 1006.0,175.5 1013.0,174.5 1020.0,173.5 1027.0,172.5 1034.0,172.5 1041.0,171.5 1048.0,170.5 1055.0,170.5 1062.0,170.5 1069.0,169.5 1076.0,169.5 1083.0,168.5 1090.0,167.5 1097.0,166.5 1104.0,166.5 1111.0,166.5 1118.0,167.5 1125.0,167.5 1132.0,168.5 1139.0,169.5 1146.0,171.5 1153.0,173.5 1160.0,174.5 1167.0,176.5 1174.0,178.5 1181.0,179.5 1188.0,180.5 1195.0,182.5 1202.0,183.5 1209.0,184.5 1216.0,185.5 1223.0,186.5 1230.0,187.5 1237.0,188.5 1244.0,189.5 1251.0,190.5 1258.0,191.5 1265.0,192.5 1272.0,193.5 1279.0,194.5 1286.0,195.5 1293.0,195.5 1300.0,196.5 1307.0,196.5 1314.0,197.5 1321.0,198.5 1328.0,199.5 1335.0,199.5" fill="none" stroke="#e6e678" stroke-width="1.1" stroke-linejoin="round" stroke-linecap="butt"/>
<polyline points="68.0,554.5 75.0,554.5 82.0,555.5 89.0,555.5 96.0,556.5 103.0,553.5 110.0,551.5 117.0,547.5 124.0,546.5 131.0,546.5 138.0,548.5 145.0,550.5 152.0,554.5 159.0,555.5 166.0,555.5 173.0,554.5 180.0,550.5 187.0,548.5 194.0,548.5 201.0,548.5 208.0,547.5 215.0,550.5 222.0,549.5 229.0,548.5 236.0,546.5 243.0,545.5 250.0,543.5 257.0,543.5 264.0,541.5 271.0,534.5 278.0,533.5 285.0,530.5 292.0,528.5 299.0,527.5 306.0,533.5 313.0,534.5 320.0,536.5 327.0,539.5 334.0,543.5 341.0,543.5 348.0,545.5 355.0,546.5 362.0,546.5 369.0,545.5 376.0,548.5 383.0,551.5 390.0,553.5 397.0,556.5 404.0,559.5 411.0,557.5 418.0,554.5 425.0,553.5 432.0,552.5 439.0,553.5 446.0,554.5 453.0,557.5 460.0,559.5 467.0,560.5 474.0,560.5 481.0,561.5 488.0,558.5 495.0,555.5 502.0,553.5 509.0,551.5 516.0,550.5 523.0,551.5 530.0,551.5 537.0,550.5 544.0,552.5 551.0,552.5 558.0,553.5 565.0,556.5 572.0,557.5 579.0,558.5 586.0,559.5 593.0,560.5 600.0,559.5 607.0,558.5 614.0,559.5 621.0,557.5 628.0,556.5 635.0,556.5 642.0,557.5 649.0,558.5 656.0,559.5 663.0,561.5 670.0,562.5 677.0,562.5 684.0,561.5 691.0,560.5 698.0,559.5 705.0,556.5 712.0,554.5 719.0,554.5 726.0,550.5 733.0,547.5 740.0,541.5 747.0,537.5 754.0,535.5 761.0,535.5 768.0,536.5 775.0,542.5 782.0,546.5 789.0,547.5 796.0,546.5 803.0,543.5 810.0,541.5 817.0,534.5 824.0,530.5 831.0,526.5 838.0,525.5 845.0,521.5 852.0,524.5 859.0,526.5 866.0,530.5 873.0,531.5 880.0,534.5 887.0,536.5 894.0,536.5 901.0,535.5 908.0,534.5 915.0,532.5 922.0,528.5 929.0,527.5 936.0,522.5 943.0,519.5 950.0,515.5 957.0,514.5 964.0,510.5 971.0,513.5 978.0,516.5 985.0,517.5 992.0,520.5 999.0,518.5 1006.0,515.5 1013.0,511.5 1020.0,507.5 1027.0,501.5 1034.0,497.5 1041.0,491.5 1048.0,485.5 1055.0,486.5 1062.0,486.5 1069.0,489.5 1076.0,492.5 1083.0,497.5 1090.0,493.5 1097.0,496.5 1104.0,494.5 1111.0,495.5 1118.0,495.5 1125.0,502.5 1132.0,502.5 1139.0,505.5 1146.0,509.5 1153.0,512.5 1160.0,512.5 1167.0,517.5 1174.0,522.5 1181.0,524.5 1188.0,526.5 1195.0,530.5 1202.0,531.5 1209.0,532.5 1216.0,534.5 1223.0,537.5 1230.0,538.5 1237.0,540.5 1244.0,538.5 1251.0,537.5 1258.0,536.5 1265.0,536.5 1272.0,537.5 1279.0,540.5 1286.0,541.5 1293.0,542.5 1300.0,541.5 1307.0,538.5 1314.0,537.5 1321.0,537.5 1328.0,535.5 1335.0,541.5" fill="none" stroke="#ffffff" stroke-width="1.1" stroke-linejoin="round" stroke-linecap="butt"/>
<polyline points="68.0,556.5 75.0,555.5 82.0,555.5 89.0,554.5 96.0,554.5 103.0,553.5 110.0,553.5 117.0,552.5 124.0,552.5 131.0,551.5 138.0,551.5 145.0,550.5 152.0,551.5 159.0,550.5 166.0,550.5 173.0,551.5 180.0,550.5 187.0,551.5 194.0,551.5 201.0,551.5 208.0,551.5 215.0,550.5 222.0,548.5 229.0,548.5 236.0,547.5 243.0,546.5 250.0,547.5 257.0,546.5 264.0,545.5 271.0,540.5 278.0,539.5 285.0,537.5 292.0,536.5 299.0,534.5 306.0,534.5 313.0,533.5 320.0,533.5 327.0,533.5 334.0,535.5 341.0,538.5 348.0,539.5 355.0,541.5 362.0,543.5 369.0,544.5 376.0,546.5 383.0,548.5 390.0,550.5 397.0,551.5 404.0,552.5 411.0,553.5 418.0,552.5 425.0,553.5 432.0,554.5 439.0,556.5 446.0,555.5 453.0,555.5 460.0,556.5 467.0,556.5 474.0,556.5 481.0,557.5 488.0,558.5 495.0,557.5 502.0,557.5 509.0,556.5 516.0,555.5 523.0,554.5 530.0,553.5 537.0,552.5 544.0,551.5 551.0,551.5 558.0,552.5 565.0,553.5 572.0,554.5 579.0,555.5 586.0,555.5 593.0,556.5 600.0,557.5 607.0,558.5 614.0,558.5 621.0,558.5 628.0,558.5 635.0,557.5 642.0,558.5 649.0,558.5 656.0,558.5 663.0,559.5 670.0,559.5 677.0,560.5 684.0,559.5 691.0,560.5 698.0,560.5 705.0,559.5 712.0,558.5 719.0,557.5 726.0,555.5 733.0,553.5 740.0,549.5 747.0,546.5 754.0,544.5 761.0,543.5 768.0,542.5 775.0,542.5 782.0,542.5 789.0,541.5 796.0,540.5 803.0,540.5 810.0,542.5 817.0,540.5 824.0,538.5 831.0,536.5 838.0,534.5 845.0,531.5 852.0,529.5 859.0,528.5 866.0,528.5 873.0,528.5 880.0,528.5 887.0,530.5 894.0,531.5 901.0,533.5 908.0,533.5 915.0,533.5 922.0,532.5 929.0,532.5 936.0,529.5 943.0,527.5 950.0,524.5 957.0,521.5 964.0,519.5 971.0,518.5 978.0,518.5 985.0,516.5 992.0,517.5 999.0,514.5 1006.0,514.5 1013.0,513.5 1020.0,512.5 1027.0,510.5 1034.0,508.5 1041.0,503.5 1048.0,498.5 1055.0,497.5 1062.0,494.5 1069.0,493.5 1076.0,491.5 1083.0,491.5 1090.0,489.5 1097.0,491.5 1104.0,491.5 1111.0,493.5 1118.0,496.5 1125.0,498.5 1132.0,499.5 1139.0,499.5 1146.0,502.5 1153.0,504.5 1160.0,507.5 1167.0,509.5 1174.0,513.5 1181.0,517.5 1188.0,519.5 1195.0,521.5 1202.0,524.5 1209.0,527.5 1216.0,529.5 1223.0,532.5 1230.0,534.5 1237.0,535.5 1244.0,535.5 1251.0,536.5 1258.0,537.5 1265.0,537.5 1272.0,538.5 1279.0,539.5 1286.0,539.5 1293.0,539.5 1300.0,538.5 1307.0,538.5 1314.0,538.5 1321.0,539.5 1328.0,539.5 1335.0,541.5" fill="none" stroke="#ffff0a" stroke-width="1.1" stroke-linejoin="round" stroke-linecap="butt"/>
</g>
</svg>
<span class="cj" style="left:35px;top:-6.66px;font-size:12px;color:#c9cacd;">分时</span>
<span class="cj" style="left:79px;top:-6.66px;font-size:12px;color:#ffffff;">日线</span>
<span class="cj" style="left:123px;top:-6.66px;font-size:12px;color:#c9cacd;">周线</span>
<span class="cj" style="left:166.75px;top:-6.66px;font-size:12px;color:#c9cacd;">月线</span>
<span class="cj" style="left:210.75px;top:-6.66px;font-size:12px;color:#c9cacd;">年线</span>
<span style="position:absolute;left:255.15px;top:-5.96px;font-size:12px;line-height:1;color:#c9cacd;white-space:nowrap;">5</span>
<span class="cj" style="left:261.85px;top:-6.66px;font-size:12px;color:#c9cacd;">分</span>
<span style="position:absolute;left:294.05px;top:-5.96px;font-size:12px;line-height:1;color:#c9cacd;white-space:nowrap;">15</span>
<span class="cj" style="left:307.45px;top:-6.66px;font-size:12px;color:#c9cacd;">分</span>
<span style="position:absolute;left:340.05px;top:-5.96px;font-size:12px;line-height:1;color:#c9cacd;white-space:nowrap;">30</span>
<span class="cj" style="left:353.45px;top:-6.66px;font-size:12px;color:#c9cacd;">分</span>
<span style="position:absolute;left:385.8px;top:-5.96px;font-size:12px;line-height:1;color:#c9cacd;white-space:nowrap;">60</span>
<span class="cj" style="left:399.2px;top:-6.66px;font-size:12px;color:#c9cacd;">分</span>
<div style="position:absolute;left:433.5px;top:-1px;width:3px;height:2.5px;background:#c9cacd"></div>
<div style="position:absolute;left:438px;top:-1px;width:3px;height:2.5px;background:#c9cacd"></div>
<div style="position:absolute;left:442.5px;top:-1px;width:3px;height:2.5px;background:#c9cacd"></div>
<span class="cj" style="left:467.5px;top:-6.66px;font-size:12px;color:#c9cacd;">多周期图</span>
<svg style="position:absolute;left:522.5px;top:0" width="8" height="3"><path d="M0.5 -2l3 3 3-3z" fill="#c9cacd"/></svg>
<span class="cj" style="left:547.75px;top:-6.66px;font-size:12px;color:#c9cacd;">个股资料</span>
<span class="cj" style="left:616.25px;top:-6.66px;font-size:12px;color:#c9cacd;">诊股</span>
<svg style="position:absolute;left:5px;top:0" width="14" height="8"><path d="M4 -4l5 8M8 -4l5 8" stroke="#c9cacd" stroke-width="1.1" fill="none"/></svg>
<span class="cj" style="left:1256.6px;top:-5.91px;font-size:12.4px;color:#c9cacd;">画线</span>
<svg style="position:absolute;left:1285px;top:0" width="14" height="8"><path d="M0.8 -3V5H5.6M3.4 2.4l6.2-6.4M5.4 4.4l6.4-6.4" stroke="#c9cacd" stroke-width="1" fill="none"/><path d="M1.6 4.3l0.8-3 2.3 2.3z" fill="#c9cacd"/></svg>
<span class="cj" style="left:1314.3px;top:-5.91px;font-size:12.4px;color:#c9cacd;">工具</span>
<svg style="position:absolute;left:1346px;top:0" width="4" height="2"><path d="M0.5 0h1.4v0.8h-1.4z" fill="#9a9b9e"/></svg>
<svg style="position:absolute;left:1361px;top:0" width="18" height="8"><path d="M7 -1l-4.5 5.5M2.2 1.2v3.6h3.6M10.5 -1l4.5 5.5M15.3 1.2v3.6h-3.6" stroke="#c9cacd" stroke-width="1" fill="none"/></svg>
<svg style="position:absolute;left:1388px;top:0" width="14" height="8"><path d="M9 -4l-5 8M13 -4l-5 8" stroke="#c9cacd" stroke-width="1.1" fill="none"/></svg>
<span class="cj" style="left:12px;top:13.04px;font-size:12px;color:#dcd273;">日线</span>
<span class="cj" style="left:48px;top:13.04px;font-size:12px;color:#ffffff;">上证指数</span>
<span style="position:absolute;left:114.5px;top:13.50px;font-size:12.4px;line-height:1;color:#d8ce5a;white-space:nowrap;">MA</span>
<svg style="position:absolute;left:141px;top:16px" width="10" height="7"><path d="M0.5 1h8.6l-4.3 5z" fill="#c8c9cc"/></svg>
<span style="position:absolute;left:168.7px;top:13.50px;font-size:12.4px;line-height:1;color:#ffffff;white-space:nowrap;">MA5:2836.52</span>
<svg style="position:absolute;left:244.2px;top:13.9px;overflow:visible" width="8" height="10"><path transform="translate(4,0)" d="M-1 0V5H-3.1L0 9.8 3.1 5H1V0z" fill="#00e600"/></svg>
<span style="position:absolute;left:263.7px;top:13.50px;font-size:12.4px;line-height:1;color:#ffff0a;white-space:nowrap;">MA10:2826.26</span>
<svg style="position:absolute;left:346px;top:13.9px;overflow:visible" width="8" height="10"><path transform="translate(4,0)" d="M-1 9.8V4.8H-3.1L0 0 3.1 4.8H1V9.8z" fill="#ff2020"/></svg>
<span style="position:absolute;left:365.3px;top:13.50px;font-size:12.4px;line-height:1;color:#e070e0;white-space:nowrap;">MA20:2803.50</span>
<svg style="position:absolute;left:448.2px;top:13.9px;overflow:visible" width="8" height="10"><path transform="translate(4,0)" d="M-1 9.8V4.8H-3.1L0 0 3.1 4.8H1V9.8z" fill="#ff2020"/></svg>
<span style="position:absolute;left:467.5px;top:13.50px;font-size:12.4px;line-height:1;color:#2e9e2e;white-space:nowrap;">MA30:2787.73</span>
<svg style="position:absolute;left:550px;top:13.9px;overflow:visible" width="8" height="10"><path transform="translate(4,0)" d="M-1 0V5H-3.1L0 9.8 3.1 5H1V0z" fill="#00e600"/></svg>
<span style="position:absolute;left:569.7px;top:13.50px;font-size:12.4px;line-height:1;color:#1e9fe6;white-space:nowrap;">MA60:2867.88</span>
<svg style="position:absolute;left:652px;top:13.9px;overflow:visible" width="8" height="10"><path transform="translate(4,0)" d="M-1 0V5H-3.1L0 9.8 3.1 5H1V0z" fill="#00e600"/></svg>
<span style="position:absolute;left:671.7px;top:13.50px;font-size:12.4px;line-height:1;color:#e6e678;white-space:nowrap;">MA120:2923.23</span>
<svg style="position:absolute;left:761.2px;top:13.9px;overflow:visible" width="8" height="10"><path transform="translate(4,0)" d="M-1 0V5H-3.1L0 9.8 3.1 5H1V0z" fill="#00e600"/></svg>
<span class="cj" style="left:1278px;top:13.34px;font-size:12px;color:#e4e5e8;">重载</span>
<svg width="1404" height="598" viewBox="0 0 1404 598" style="position:absolute;left:0;top:0"><rect x="1311" y="19" width="10" height="7" fill="#c8c9cc"/><path d="M1313.6 17.4v-0.5a2.6 2.6 0 0 1 5.2 0v2.4" stroke="#c8c9cc" stroke-width="1.25" fill="none"/><ellipse cx="1316" cy="22.5" rx="1.1" ry="0.85" fill="#25262a"/><path d="M1334 17.1h3.9a4 4 0 0 1 0 8h-5.9" stroke="#c8c9cc" stroke-width="1.7" fill="none"/><path d="M1330.3 17.1l4-3.3v6.6z" fill="#c8c9cc"/><circle cx="1356" cy="20.1" r="6.1" fill="#c8c9cc"/><path d="M1352 20.1h8M1356 16.1v8" stroke="#17181b" stroke-width="1.9"/><circle cx="1376" cy="20.1" r="6.1" fill="#c8c9cc"/><path d="M1371.8 20.1h8.4" stroke="#17181b" stroke-width="1.9"/><polygon points="1400.35,18.95 1402.60,18.95 1402.60,21.25 1400.35,21.25 1399.89,22.36 1401.48,23.95 1399.85,25.58 1398.26,23.99 1397.15,24.45 1397.15,26.70 1394.85,26.70 1394.85,24.45 1393.74,23.99 1392.15,25.58 1390.52,23.95 1392.11,22.36 1391.65,21.25 1389.40,21.25 1389.40,18.95 1391.65,18.95 1392.11,17.84 1390.52,16.25 1392.15,14.62 1393.74,16.21 1394.85,15.75 1394.85,13.50 1397.15,13.50 1397.15,15.75 1398.26,16.21 1399.85,14.62 1401.48,16.25 1399.89,17.84" fill="#c8c9cc"/><circle cx="1396" cy="20.1" r="1.9" fill="#17181b"/><circle cx="14" cy="450" r="6" fill="#c8c9cc"/><path d="M10.8 448h6.4l-3.2 4.6z" fill="#25262a"/><circle cx="1376" cy="450" r="6" fill="#c8c9cc"/><path d="M1373.2 447.2l5.6 5.6M1378.8 447.2l-5.6 5.6" stroke="#25262a" stroke-width="1.7"/><polygon points="1400.35,448.85 1402.60,448.85 1402.60,451.15 1400.35,451.15 1399.89,452.26 1401.48,453.85 1399.85,455.48 1398.26,453.89 1397.15,454.35 1397.15,456.60 1394.85,456.60 1394.85,454.35 1393.74,453.89 1392.15,455.48 1390.52,453.85 1392.11,452.26 1391.65,451.15 1389.40,451.15 1389.40,448.85 1391.65,448.85 1392.11,447.74 1390.52,446.15 1392.15,444.52 1393.74,446.11 1394.85,445.65 1394.85,443.40 1397.15,443.40 1397.15,445.65 1398.26,446.11 1399.85,444.52 1401.48,446.15 1399.89,447.74" fill="#c8c9cc"/><circle cx="1396" cy="450" r="1.9" fill="#17181b"/></svg>
<span class="cj" style="left:32px;top:444.24px;font-size:12px;color:#dcd273;">成交额</span>
<span class="cj" style="left:76px;top:444.24px;font-size:12px;color:#00e600;">总金额</span>
<span style="position:absolute;left:112px;top:444.70px;font-size:12.4px;line-height:1;color:#00e600;white-space:nowrap;">:1413.28</span>
<span class="cj" style="left:160.6px;top:444.24px;font-size:12px;color:#00e600;">亿</span>
<svg style="position:absolute;left:173px;top:445px;overflow:visible" width="8" height="10"><path transform="translate(4,0)" d="M-1 0V5H-3.1L0 9.8 3.1 5H1V0z" fill="#00e600"/></svg>
<span style="position:absolute;left:188.6px;top:444.70px;font-size:12.4px;line-height:1;color:#ffffff;white-space:nowrap;">MA5:2238.47</span>
<span class="cj" style="left:262.5px;top:444.24px;font-size:12px;color:#ffffff;">亿</span>
<svg style="position:absolute;left:276.2px;top:445px;overflow:visible" width="8" height="10"><path transform="translate(4,0)" d="M-1 0V5H-3.1L0 9.8 3.1 5H1V0z" fill="#00e600"/></svg>
<span style="position:absolute;left:291.8px;top:444.70px;font-size:12.4px;line-height:1;color:#ffff0a;white-space:nowrap;">MA10:2261.05</span>
<span class="cj" style="left:373px;top:444.24px;font-size:12px;color:#ffff0a;">亿</span>
<svg style="position:absolute;left:385.8px;top:445px;overflow:visible" width="8" height="10"><path transform="translate(4,0)" d="M-1 0V5H-3.1L0 9.8 3.1 5H1V0z" fill="#00e600"/></svg>
<span style="position:absolute;right:1346.2px;top:67.70px;font-size:12.4px;line-height:1;color:#ff3232;white-space:nowrap;">5.87<span style="font-size:11.2px">%</span></span>
<span style="position:absolute;left:1354.3px;top:67.70px;font-size:12.4px;line-height:1;color:#ff3232;white-space:nowrap;">5.87<span style="font-size:11.2px">%</span></span>
<span style="position:absolute;right:1346.2px;top:139.70px;font-size:12.4px;line-height:1;color:#ff3232;white-space:nowrap;">2.46<span style="font-size:11.2px">%</span></span>
<span style="position:absolute;left:1354.3px;top:139.70px;font-size:12.4px;line-height:1;color:#ff3232;white-space:nowrap;">2.46<span style="font-size:11.2px">%</span></span>
<span style="position:absolute;right:1346.2px;top:210.70px;font-size:12.4px;line-height:1;color:#00e600;white-space:nowrap;">-0.96<span style="font-size:11.2px">%</span></span>
<span style="position:absolute;left:1354.3px;top:210.70px;font-size:12.4px;line-height:1;color:#00e600;white-space:nowrap;">-0.96<span style="font-size:11.2px">%</span></span>
<span style="position:absolute;right:1346.2px;top:282.70px;font-size:12.4px;line-height:1;color:#00e600;white-space:nowrap;">-4.37<span style="font-size:11.2px">%</span></span>
<span style="position:absolute;left:1354.3px;top:282.70px;font-size:12.4px;line-height:1;color:#00e600;white-space:nowrap;">-4.37<span style="font-size:11.2px">%</span></span>
<span style="position:absolute;right:1346.2px;top:353.70px;font-size:12.4px;line-height:1;color:#00e600;white-space:nowrap;">-7.79<span style="font-size:11.2px">%</span></span>
<span style="position:absolute;left:1354.3px;top:353.70px;font-size:12.4px;line-height:1;color:#00e600;white-space:nowrap;">-7.79<span style="font-size:11.2px">%</span></span>
<span style="position:absolute;right:1346.2px;top:425.70px;font-size:12.4px;line-height:1;color:#00e600;white-space:nowrap;">-11.20<span style="font-size:11.2px">%</span></span>
<span style="position:absolute;left:1354.3px;top:425.70px;font-size:12.4px;line-height:1;color:#00e600;white-space:nowrap;">-11.20<span style="font-size:11.2px">%</span></span>
<span style="position:absolute;right:1346.2px;top:462.60px;font-size:12.4px;line-height:1;color:#c8c9cc;white-space:nowrap;">5644.42</span>
<span style="position:absolute;left:1354.3px;top:462.60px;font-size:12.4px;line-height:1;color:#c8c9cc;white-space:nowrap;">5644.42</span>
<span style="position:absolute;right:1346.2px;top:487.60px;font-size:12.4px;line-height:1;color:#c8c9cc;white-space:nowrap;">4233.31</span>
<span style="position:absolute;left:1354.3px;top:489.70px;font-size:12.4px;line-height:1;color:#c8c9cc;white-space:nowrap;">4233.31</span>
<span style="position:absolute;right:1346.2px;top:520.60px;font-size:12.4px;line-height:1;color:#c8c9cc;white-space:nowrap;">2822.21</span>
<span style="position:absolute;left:1354.3px;top:522.90px;font-size:12.4px;line-height:1;color:#c8c9cc;white-space:nowrap;">2822.21</span>
<span style="position:absolute;right:1346.2px;top:554.70px;font-size:12.4px;line-height:1;color:#c8c9cc;white-space:nowrap;">1411.10</span>
<span style="position:absolute;left:1354.3px;top:556.70px;font-size:12.4px;line-height:1;color:#c8c9cc;white-space:nowrap;">1411.10</span>
<span class="cj" style="left:45.5px;top:579.34px;font-size:12px;color:#c8c9cc;">亿</span>
<span class="cj" style="left:1353.8px;top:579.64px;font-size:12px;color:#c8c9cc;">亿</span>
<span class="cj" style="left:873.8px;top:49.39px;font-size:12.4px;color:#c8c9cc;">←</span>
<span style="position:absolute;left:886.3px;top:50.70px;font-size:12.4px;line-height:1;color:#c8c9cc;white-space:nowrap;">3127.17</span>
<span class="cj" style="left:1160.8px;top:391.69px;font-size:12.4px;color:#c8c9cc;">←</span>
<span style="position:absolute;left:1173.2px;top:393.00px;font-size:12.4px;line-height:1;color:#c8c9cc;white-space:nowrap;">2646.80</span>
<span style="position:absolute;left:1107.6px;top:109.70px;font-size:12.4px;line-height:1;color:#c8c9cc;white-space:nowrap;letter-spacing:0.08px;">3010.03-3029.46</span>
<span style="position:absolute;left:1129px;top:152.50px;font-size:12.4px;line-height:1;color:#c8c9cc;white-space:nowrap;letter-spacing:0.08px;">2944.47-2968.52</span>
<span style="position:absolute;left:1338.8px;top:248.30px;font-size:12.4px;line-height:1;color:#c8c9cc;white-space:nowrap;">2</span>
</body></html>
